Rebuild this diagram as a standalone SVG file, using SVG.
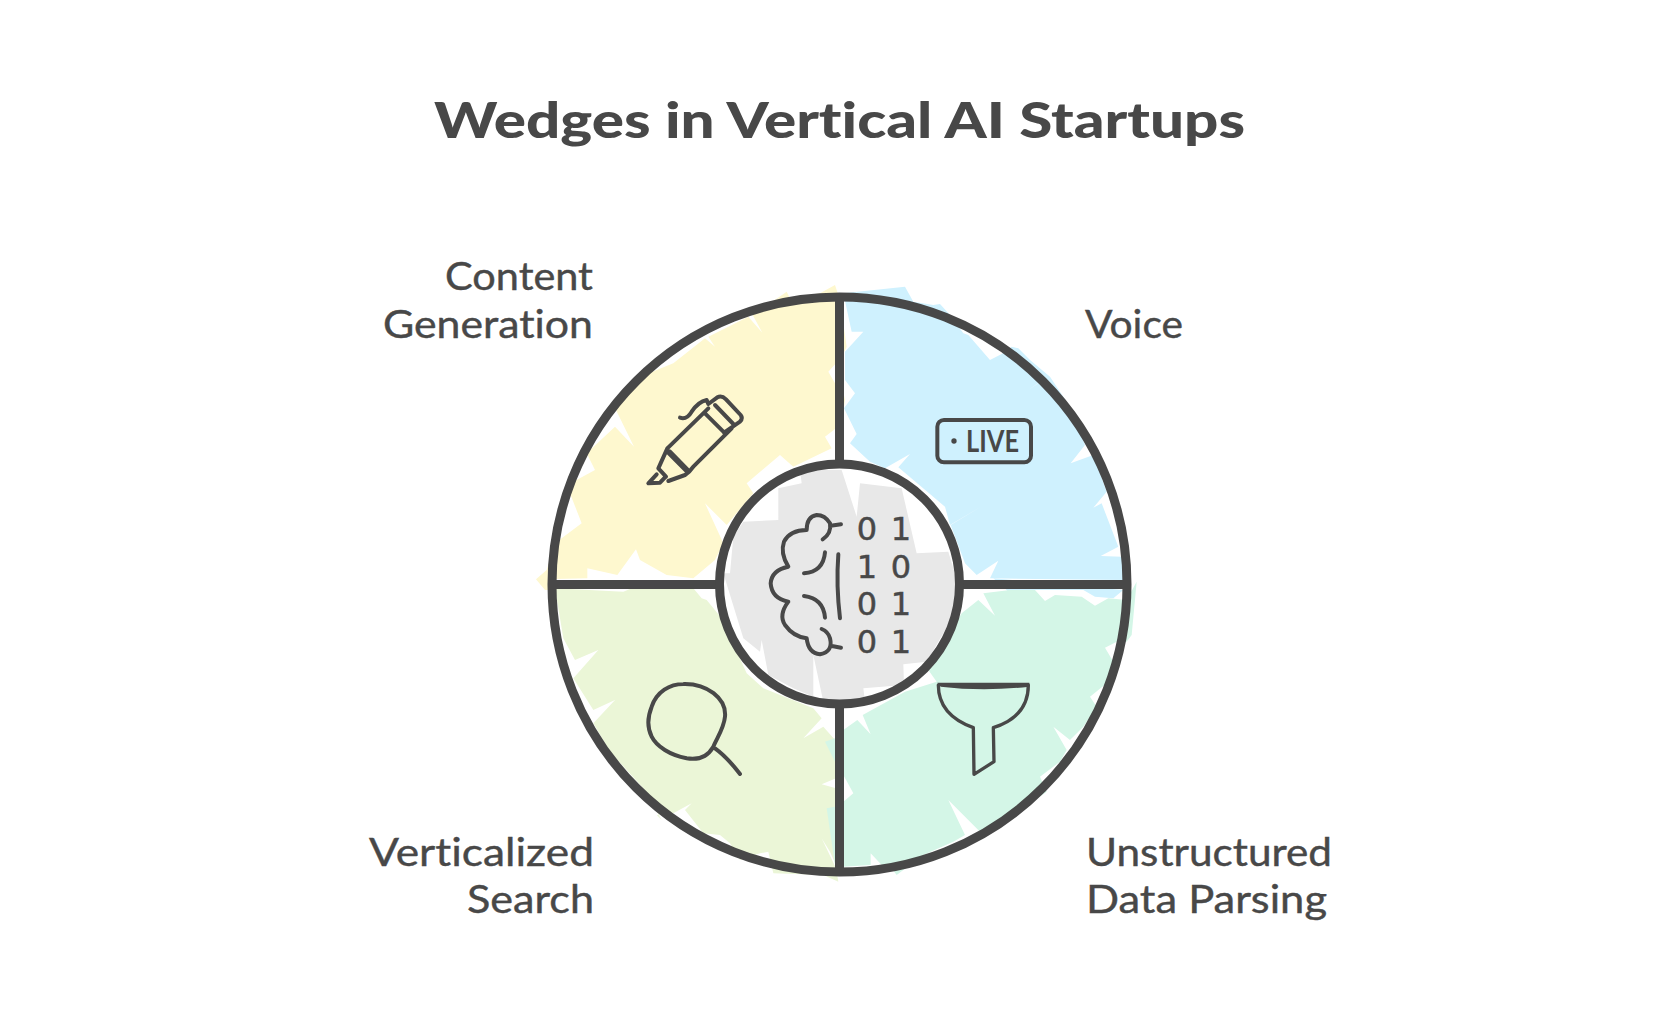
<svg xmlns="http://www.w3.org/2000/svg" width="1664" height="1016" viewBox="0 0 1664 1016">
<style>
.t{font-family:"Lato","Noto Sans",sans-serif;fill:#484848;font-variant-ligatures:none}
.title{font-size:50px;font-weight:900}
.lab{font-size:38px;font-weight:400;stroke:#484848;stroke-width:.4}
.ring{fill:none;stroke:#484848;stroke-width:9}
.ic{fill:none;stroke:#484848;stroke-width:12;stroke-linecap:round;stroke-linejoin:round}
.dig{font-family:"DejaVu Sans",sans-serif;font-size:32px;fill:#484848;text-anchor:middle;stroke:#484848;stroke-width:.5}
</style>
<defs><clipPath id="cc"><circle cx="839.5" cy="584" r="120"/></clipPath></defs>
<rect width="1664" height="1016" fill="#fff"/>
<text class="t title" x="434" y="138" textLength="811" lengthAdjust="spacingAndGlyphs">Wedges in Vertical AI Startups</text>

<g id="node-voice">
<g transform="translate(830,280) scale(.33333)">
<polygon fill="#CFF1FE" points="40,40 225,20 250,65 310,75 330,72 360,105 400,160 415,165 480,240 515,222 545,200 565,205 600,240 660,290 720,380 765,495 722,550 790,525 830,635 790,683 815,670 865,800 812,828 875,830 885,900 480,895 505,842 440,885 405,850 362,735 458,677 360,735 345,680 205,562 240,522 165,565 120,545 60,490 80,462 42,385 75,340 45,300 45,215 100,155 65,155"/>
<polygon fill="#CFF1FE" points="490,895 530,930 555,967 615,930 760,930 795,950 850,955 880,930"/>
<polygon fill="#fff" points="595,330 630,305 640,300"/>
<rect class="ic" x="322" y="420" width="281" height="127" rx="20"/>
<circle cx="372" cy="483" r="8" fill="#484848"/>
</g>
<text class="t" x="966" y="452" font-size="30" font-weight="700" textLength="53" lengthAdjust="spacingAndGlyphs">LIVE</text>
<text class="t lab" x="1085" y="338" textLength="98" lengthAdjust="spacingAndGlyphs">Voice</text>
</g>

<g id="node-content">
<g transform="translate(530,280) scale(.33333)">
<polygon fill="#FEF8CF" points="18,898 50,870 75,790 155,730 122,645 130,605 195,570 170,520 255,440 312,500 258,390 330,290 430,250 525,175 555,200 535,170 655,110 697,158 668,105 720,70 770,35 780,55 870,40 915,15 930,60 950,200 925,250 918,250 895,275 918,315 918,445 885,470 905,505 790,560 750,525 650,610 670,640 590,735 525,670 580,790 555,840 490,895 410,885 330,840 318,808 262,885 172,865 172,895 75,897 55,930 45,930"/>
<polygon fill="#FEF8CF" points="930,290 945,360 930,450"/>
<path class="ic" d="M412,505L535,385M535,372L562,352Q575,345 588,358L632,405Q640,415 630,425L582,458M605,445L490,560Q480,575 465,585L415,603M412,505L385,565L408,590M380,583L355,610L390,608L405,592M525,400L580,455M555,375L610,432M450,413Q470,420 485,395Q505,365 530,360L535,372"/>
<path class="ic" style="stroke-width:18" d="M418,517L470,570"/>
</g>
<text class="t lab" x="445" y="290" textLength="148" lengthAdjust="spacingAndGlyphs">Content</text>
<text class="t lab" x="383" y="338" textLength="210" lengthAdjust="spacingAndGlyphs">Generation</text>
</g>

<g id="node-search">
<g transform="translate(530,575) scale(.33333)">
<polygon fill="#EBF6D7" points="75,40 280,50 300,42 490,40 515,70 530,75 575,130 650,295 700,340 850,400 875,430 820,490 880,455 920,500 918,610 875,628 918,640 918,870 900,830 875,790 918,880 925,920 880,900 730,895 715,830 690,835 630,855 600,805 570,780 520,775 465,705 485,685 430,715 380,720 395,735 340,640 240,530 190,445 255,375 190,405 130,310 205,225 135,255 100,190"/>
<path class="ic" d="M460,327C530,325 590,370 585,425C582,460 560,490 550,515C530,550 500,555 470,550C420,540 380,515 365,485C350,455 355,420 365,395C380,350 420,327 460,327ZM555,520Q590,545 630,597"/>
</g>
<text class="t lab" x="369" y="866" textLength="225" lengthAdjust="spacingAndGlyphs">Verticalized</text>
<text class="t lab" x="467" y="913" textLength="127" lengthAdjust="spacingAndGlyphs">Search</text>
</g>

<g id="node-parsing">
<g transform="translate(830,575) scale(.33333)">
<polygon fill="#D4F6E7" points="395,115 445,75 495,122 460,55 540,45 615,45 645,78 675,60 755,65 795,92 835,70 890,75 920,20 905,180 890,200 860,200 825,218 850,260 830,325 780,365 800,395 760,455 720,495 670,455 710,525 690,560 630,605 650,650 540,730 450,770 355,675 405,780 370,800 280,840 200,900 185,880 155,870 122,835 122,870 40,875 40,680 70,655 40,600 40,465 82,435 122,478 98,420 225,350 320,320 295,285"/>
<polygon fill="#D4F6E7" points="-15,500 15,490 15,560"/>
<polygon fill="#D4F6E7" points="-10,700 15,695 15,870"/>
<path fill="#484848" d="M322,323L598,323L598,335Q460,350 332,335Z"/>
<path class="ic" style="stroke-width:10" d="M325,330Q325,420 430,458L432,598L492,560L490,458Q595,425 595,330"/>
</g>
<text class="t lab" x="1086" y="866" textLength="246" lengthAdjust="spacingAndGlyphs">Unstructured</text>
<text class="t lab" x="1086" y="913" textLength="241" lengthAdjust="spacingAndGlyphs">Data Parsing</text>
</g>

<g id="connectors">
<circle class="ring" cx="839.5" cy="584.5" r="287.5"/>
<path class="ring" d="M839.5,297V464M839.5,704V872M552,584.5H719M960,584.5H1127"/>
</g>

<g id="node-center">
<circle cx="839.5" cy="584" r="120" fill="#fff"/>
<g clip-path="url(#cc)">
<polygon transform="translate(710,455) scale(.33333)" fill="#E8E8E8" points="205,195 205,100 275,85 270,45 395,45 440,185 450,85 575,100 620,295 715,290 745,390 720,500 650,620 580,628 582,690 460,700 465,740 340,740 310,600 310,725 250,700 175,660 155,555 150,590 100,550 40,355 60,355 70,245 100,200"/>
</g>
<circle class="ring" cx="839.5" cy="584" r="120"/>
<path transform="translate(710,455) scale(.33333)" class="ic" d="M338,253Q365,235 360,205Q345,180 320,180Q290,185 290,225Q240,225 222,260Q210,295 235,335Q185,345 182,385Q185,430 235,440Q205,480 225,510Q250,545 290,550Q295,595 330,598Q370,590 360,550Q355,530 335,522M362,572L393,578M362,212L393,208M345,292Q340,350 282,355M282,423Q340,430 345,488M385,298Q378,390 390,490"/>
<text class="dig" x="867" y="540">0</text><text class="dig" x="901" y="540">1</text>
<text class="dig" x="867" y="577.5">1</text><text class="dig" x="901" y="577.5">0</text>
<text class="dig" x="867" y="615">0</text><text class="dig" x="901" y="615">1</text>
<text class="dig" x="867" y="652.5">0</text><text class="dig" x="901" y="652.5">1</text>
</g>
</svg>
